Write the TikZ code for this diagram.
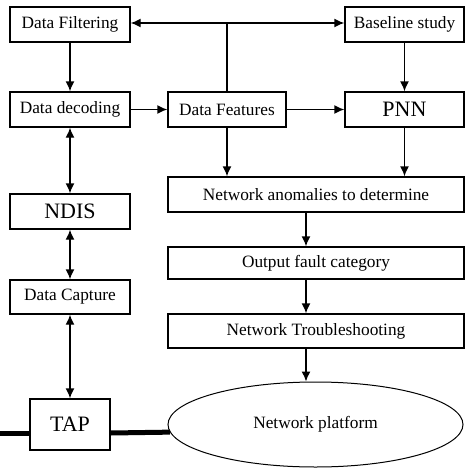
\documentclass[tikz,border=0pt]{standalone}
\usepackage{fontspec}
\setmainfont{Liberation Serif}
\usetikzlibrary{arrows.meta,shapes.geometric}

\begin{document}
\begin{tikzpicture}[x=1pt, y=-1pt, line width=1.4pt,
    main/.style = {draw, rectangle, minimum height=35pt, inner sep=0pt, font=\fontsize{17.3}{20}\selectfont},
    big/.style = {font=\fontsize{22}{26}\selectfont},
    arr/.style = {-{Latex[length=10pt,width=9pt]}},
    both/.style = {{Latex[length=10pt,width=9pt]}-{Latex[length=10pt,width=9pt]}}]
    \useasboundingbox (0,0) rectangle (474,474);
    % left column
    \node[main, minimum width=120pt] (filt) at (70,24.5) {Data Filtering};
    \node[main, minimum width=120pt] (dec) at (70,109.5) {Data decoding};
    \node[main, big, minimum width=120pt] (ndis) at (70,211.5) {NDIS};
    \node[main, minimum width=120pt, minimum height=34pt] (cap) at (70,297) {Data Capture};
    \node[main, big, minimum width=80pt, minimum height=51pt] (tap) at (70,424.5) {TAP};
    % middle and right
    \node[main, minimum width=118pt] (feat) at (227,109.5) {Data Features};
    \node[main, minimum width=119pt] (base) at (404.5,24.5) {Baseline study};
    \node[main, big, minimum width=119pt] (pnn) at (404.5,109.5) {PNN};
    \node[main, minimum width=296pt] (anom) at (316,194.5) {Network anomalies to determine};
    \node[main, minimum width=296pt, minimum height=32pt] (out) at (316,263) {Output fault category};
    \node[main, minimum width=296pt, minimum height=34pt] (trou) at (316,331) {Network Troubleshooting};
    \node[draw, ellipse, line width=1pt, minimum width=295pt, minimum height=85pt, inner sep=0pt,
        font=\fontsize{17.3}{20}\selectfont] (plat) at (315.5,424.5) {Network platform};

    \coordinate (j) at (feat.north |- 0,23);
    \coordinate (left) at (0,433);
    \draw (feat.north) -- (j);
    \draw[arr] (j) -- (filt.east |- j);
    \draw[arr] (j) -- (base.west |- j);
    \draw[arr] (filt) -- (dec);
    \draw[arr] (base) -- (pnn);
    \draw[arr] (dec) -- (feat);
    \draw[arr] (feat) -- (pnn);
    \draw[arr] (feat) -- (feat |- anom.north);
    \draw[arr] (pnn) -- (pnn |- anom.north);
    \draw[arr] ([xshift=-10pt]anom.south) -- ([xshift=-10pt]out.north);
    \draw[arr] ([xshift=-10pt]out.south) -- ([xshift=-10pt]trou.north);
    \draw[arr] ([xshift=-10pt]trou.south) -- ([xshift=-10pt]trou.south |- plat.north);
    \draw[both] (dec) -- (ndis);
    \draw[both] (ndis) -- (cap);
    \draw[both] (cap) -- (tap);
    \draw[line width=5pt] (left) -- (tap.west |- left);
    \draw[line width=5pt] (tap.east |- left) -- (plat.183.4);
\end{tikzpicture}
\end{document}
